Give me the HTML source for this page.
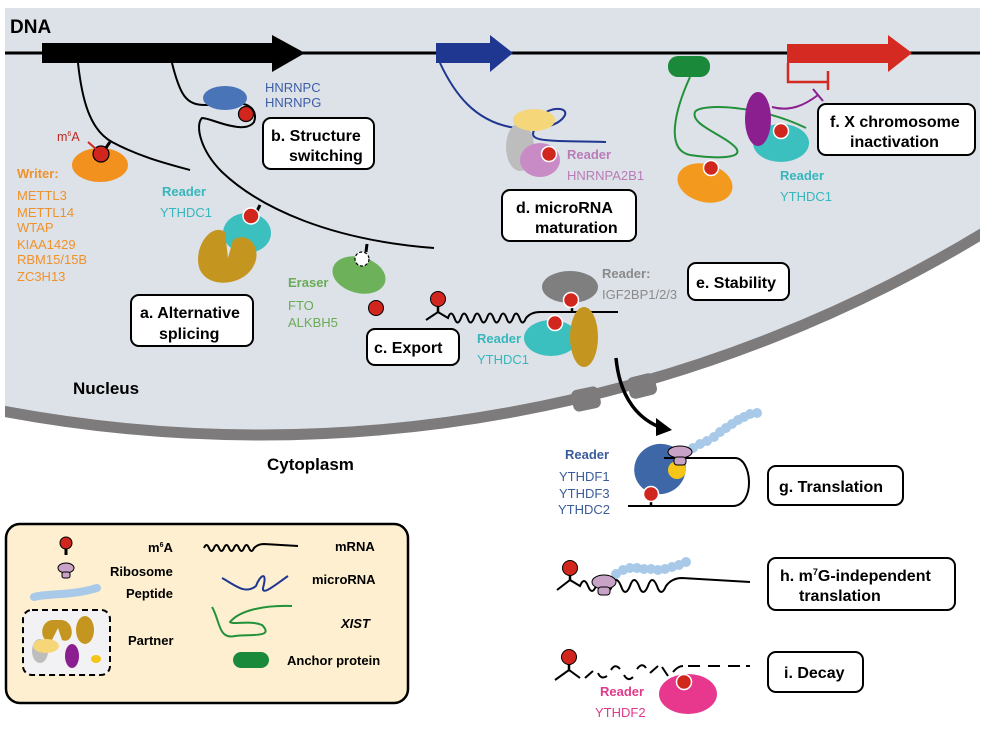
<!DOCTYPE html>
<html><head><meta charset="utf-8"><style>
html,body{margin:0;padding:0;background:#fff}
svg{display:block}
text{font-family:"Liberation Sans",Arial,sans-serif}
.b{font-weight:bold}
</style></head><body>
<svg width="987" height="737" viewBox="0 0 987 737" xmlns="http://www.w3.org/2000/svg">
<defs>
<clipPath id="nuc"><rect x="5" y="8" width="975" height="500"/></clipPath>
</defs>
<g clip-path="url(#nuc)">
<circle cx="260" cy="-961" r="1391" fill="#dde1e8"/>
<circle cx="260" cy="-961" r="1396" fill="none" stroke="#7d7b7b" stroke-width="11"/>
</g>
<rect x="572" y="388" width="28" height="22" rx="6" fill="#7d7b7b" transform="rotate(-12 586 399)"/>
<rect x="628" y="375" width="28" height="22" rx="6" fill="#7d7b7b" transform="rotate(-14 642 386)"/>

<text x="10" y="33" class="b" font-size="19">DNA</text>
<line x1="5" y1="53" x2="980" y2="53" stroke="#000" stroke-width="3"/>
<polygon points="42,43 272,43 272,35 305,53 272,72 272,63 42,63" fill="#000"/>
<polygon points="436,43 490,43 490,35 513,53 490,72 490,63 436,63" fill="#1f3790"/>
<polygon points="787,44 888,44 888,35 912,53 888,72 888,63 787,63" fill="#d42a22"/>
<rect x="668" y="56" width="42" height="21" rx="10" fill="#1a8a3a"/>

<path d="M78,63 C82,100 90,130 112,142 C140,157 168,164 190,170" fill="none" stroke="#000" stroke-width="2"/>
<ellipse cx="100" cy="165" rx="28" ry="17" fill="#f3911f"/>
<line x1="103" y1="152" x2="110" y2="142" stroke="#000" stroke-width="3"/>
<circle cx="101" cy="154" r="8" fill="#d1261e" stroke="#000" stroke-width="1.2"/>
<line x1="88" y1="142" x2="96" y2="149" stroke="#d1261e" stroke-width="2"/>
<text x="57" y="141" font-size="12.5" fill="#c0261f">m<tspan font-size="7" dy="-5">6</tspan><tspan dy="5">A</tspan></text>
<g fill="#f0922b" font-size="13">
<text x="17" y="178" class="b">Writer:</text>
<text x="17" y="200">METTL3</text><text x="17" y="217">METTL14</text><text x="17" y="232">WTAP</text>
<text x="17" y="249">KIAA1429</text><text x="17" y="264">RBM15/15B</text><text x="17" y="281">ZC3H13</text>
</g>

<path d="M172,63 C180,95 186,105 205,105 L232,105 C250,100 258,112 254,122 C250,128 240,128 232,126 C220,124 208,118 202,118 C195,125 200,150 222,172 C260,208 330,240 434,248" fill="none" stroke="#000" stroke-width="2"/>
<ellipse cx="225" cy="98" rx="22" ry="12" fill="#4a74b8"/>
<circle cx="246" cy="114" r="7.5" fill="#d1261e" stroke="#000" stroke-width="1.2"/>
<text x="265" y="92" font-size="13" fill="#3d5fa8">HNRNPC</text>
<text x="265" y="107" font-size="13" fill="#3d5fa8">HNRNPG</text>
<rect x="263" y="118" width="111" height="51" rx="8" fill="#fff" stroke="#000" stroke-width="2"/>
<text x="271" y="141" class="b" font-size="16">b. Structure</text>
<text x="289" y="161" class="b" font-size="16">switching</text>

<text x="162" y="196" class="b" font-size="13" fill="#35b7bb">Reader</text>
<text x="160" y="217" font-size="13" fill="#35b7bb">YTHDC1</text>
<ellipse cx="247" cy="233" rx="24" ry="20" fill="#3bbfbf"/>
<path d="M228,258 L233,240 C250,230 262,250 254,265 C245,285 210,290 200,270 C192,250 210,222 225,232 Z" fill="#c4961f"/>
<line x1="256" y1="213" x2="260" y2="205" stroke="#000" stroke-width="3"/>
<circle cx="251" cy="216" r="8" fill="#d1261e" stroke="#fff" stroke-width="1.5"/>
<rect x="131" y="295" width="122" height="51" rx="8" fill="#fff" stroke="#000" stroke-width="2"/>
<text x="140" y="318" class="b" font-size="16">a. Alternative</text>
<text x="159" y="339" class="b" font-size="16">splicing</text>

<ellipse cx="359" cy="275" rx="27" ry="18" fill="#6db25a" transform="rotate(15 359 275)"/>
<line x1="366" y1="252" x2="367" y2="244" stroke="#000" stroke-width="3"/>
<circle cx="362" cy="259" r="7" fill="#fff" stroke="#000" stroke-width="1.2" stroke-dasharray="3,2"/>
<text x="288" y="287" class="b" font-size="13" fill="#6aab57">Eraser</text>
<text x="288" y="310" font-size="13" fill="#6aab57">FTO</text>
<text x="288" y="327" font-size="13" fill="#6aab57">ALKBH5</text>
<circle cx="376" cy="308" r="7.5" fill="#d1261e" stroke="#000" stroke-width="1"/>

<path d="M426,320 L438,312 L448,318 q3,-9 6.5,0 q3,9 6.5,0 q3,-9 6.5,0 q3,9 6.5,0 q3,-9 6.5,0 q3,9 6.5,0 q3,-9 6.5,0 q3,9 6.5,0 q3,-9 6.5,0 q3,9 6.5,0 q3,-9 6.5,0 q3,9 6.5,0 q5,-6 14,-6 L618,312" fill="none" stroke="#000" stroke-width="2"/>
<line x1="438" y1="312" x2="438" y2="304" stroke="#000" stroke-width="2.5"/>
<circle cx="438" cy="299" r="7.5" fill="#d1261e" stroke="#000" stroke-width="1"/>
<rect x="367" y="329" width="92" height="36" rx="8" fill="#fff" stroke="#000" stroke-width="2"/>
<text x="374" y="353" class="b" font-size="16">c. Export</text>
<text x="477" y="343" class="b" font-size="13" fill="#35b7bb">Reader</text>
<text x="477" y="364" font-size="13" fill="#35b7bb">YTHDC1</text>
<ellipse cx="551" cy="338" rx="27" ry="18" fill="#3bbfbf"/>
<ellipse cx="584" cy="337" rx="14" ry="30" fill="#c4961f"/>
<circle cx="555" cy="323" r="7.5" fill="#d1261e" stroke="#fff" stroke-width="1.5"/>
<ellipse cx="570" cy="287" rx="28" ry="16" fill="#7f7f7f"/>
<line x1="572" y1="305" x2="572" y2="312" stroke="#000" stroke-width="2.5"/>
<circle cx="571" cy="300" r="7.5" fill="#d1261e" stroke="#fff" stroke-width="1.5"/>
<text x="602" y="278" class="b" font-size="13" fill="#8a8a8a">Reader:</text>
<text x="602" y="299" font-size="13" fill="#8a8a8a">IGF2BP1/2/3</text>
<rect x="688" y="263" width="101" height="37" rx="8" fill="#fff" stroke="#000" stroke-width="2"/>
<text x="696" y="288" class="b" font-size="16">e. Stability</text>

<path d="M440,63 C455,95 475,120 510,127 C540,132 560,125 565,115 C568,105 545,108 540,118 C535,130 525,138 545,140 C560,142 590,141 606,142" fill="none" stroke="#1f3790" stroke-width="2"/>
<ellipse cx="520" cy="147" rx="14" ry="24" fill="#bdbdbd"/>
<ellipse cx="540" cy="160" rx="20" ry="17" fill="#c98bc6"/>
<ellipse cx="534" cy="120" rx="21" ry="11" fill="#f5d77a"/>
<circle cx="549" cy="154" r="7.5" fill="#d1261e" stroke="#fff" stroke-width="1.5"/>
<text x="567" y="159" class="b" font-size="13" fill="#b97cb8">Reader</text>
<text x="567" y="180" font-size="13" fill="#b97cb8">HNRNPA2B1</text>
<rect x="502" y="190" width="134" height="51" rx="8" fill="#fff" stroke="#000" stroke-width="2"/>
<text x="516" y="213" class="b" font-size="16">d. microRNA</text>
<text x="535" y="233" class="b" font-size="16">maturation</text>

<path d="M690,77 C675,110 665,150 690,155 C710,158 745,160 736,148 C725,135 690,125 695,112 C700,103 760,105 806,128" fill="none" stroke="#22913a" stroke-width="2"/>
<ellipse cx="705" cy="183" rx="28" ry="19" fill="#f39a1e" transform="rotate(15 705 183)"/>
<circle cx="711" cy="168" r="7.5" fill="#d1261e" stroke="#fff" stroke-width="1.5"/>
<ellipse cx="781" cy="143" rx="28" ry="19" fill="#3bbfbf"/>
<ellipse cx="758" cy="119" rx="13" ry="27" fill="#8b1f8f"/>
<circle cx="781" cy="131" r="7.5" fill="#d1261e" stroke="#fff" stroke-width="1.5"/>
<path d="M772,107 C790,112 805,105 818,95" fill="none" stroke="#8b1f8f" stroke-width="2"/>
<line x1="813" y1="89" x2="823" y2="101" stroke="#8b1f8f" stroke-width="2"/>
<path d="M788,63 L788,82 L828,82" fill="none" stroke="#d42a22" stroke-width="2.5"/>
<line x1="828" y1="71" x2="828" y2="90" stroke="#d42a22" stroke-width="2.5"/>
<text x="780" y="180" class="b" font-size="13" fill="#35b7bb">Reader</text>
<text x="780" y="201" font-size="13" fill="#35b7bb">YTHDC1</text>
<rect x="818" y="104" width="157" height="51" rx="8" fill="#fff" stroke="#000" stroke-width="2"/>
<text x="830" y="127" class="b" font-size="16">f. X chromosome</text>
<text x="850" y="147" class="b" font-size="16">inactivation</text>

<text x="73" y="394" class="b" font-size="17">Nucleus</text>
<text x="267" y="470" class="b" font-size="17">Cytoplasm</text>

<path d="M616,358 C620,400 640,420 662,428" fill="none" stroke="#000" stroke-width="3.5"/>
<polygon points="656,418 672,430 656,436" fill="#000"/>

<text x="565" y="459" class="b" font-size="13" fill="#3b5c9a">Reader</text>
<g font-size="13" fill="#3b5c9a"><text x="559" y="481">YTHDF1</text><text x="559" y="498">YTHDF3</text><text x="558" y="514">YTHDC2</text></g>
<g fill="#a9c9e8"><circle cx="693" cy="448" r="5"/><circle cx="700" cy="444" r="5"/><circle cx="707" cy="441" r="5"/><circle cx="714" cy="437" r="5"/><circle cx="720" cy="432" r="5"/><circle cx="726" cy="428" r="5"/><circle cx="732" cy="424" r="5"/><circle cx="738" cy="420" r="5"/><circle cx="744" cy="417" r="5"/><circle cx="750" cy="414" r="5"/><circle cx="757" cy="413" r="5"/></g>
<ellipse cx="660" cy="469" rx="26" ry="25" fill="#3e67a8" transform="rotate(-25 660 469)"/>
<circle cx="677" cy="470" r="9" fill="#f5c518"/>
<path d="M664,458 L735,458 C752,458 756,505 733,506 L628,506" fill="none" stroke="#000" stroke-width="2"/>
<ellipse cx="680" cy="452" rx="12" ry="6" fill="#c9a2c8" stroke="#000" stroke-width="1"/>
<rect x="674" y="457" width="12" height="8" rx="3" fill="#c9a2c8" stroke="#000" stroke-width="1"/>
<line x1="651" y1="500" x2="651" y2="506" stroke="#000" stroke-width="2.5"/>
<circle cx="651" cy="494" r="7.5" fill="#d1261e" stroke="#fff" stroke-width="1.5"/>
<rect x="768" y="466" width="135" height="39" rx="8" fill="#fff" stroke="#000" stroke-width="2"/>
<text x="779" y="492" class="b" font-size="16">g. Translation</text>

<path d="M557,590 L570,580 L580,586 q4,-10 8,0 q4,10 8,0 q4,-10 8,0 q4,10 8,0 q4,-12 9,0 q4,12 9,0 q4,-12 9,0 q4,12 9,0 q4,-12 9,0 q4,12 9,0 q6,-8 16,-8 L750,582" fill="none" stroke="#000" stroke-width="2"/>
<g fill="#a9c9e8"><circle cx="616" cy="574" r="5"/><circle cx="623" cy="570" r="5"/><circle cx="630" cy="568" r="5"/><circle cx="637" cy="568" r="5"/><circle cx="644" cy="569" r="5"/><circle cx="651" cy="569" r="5"/><circle cx="658" cy="570" r="5"/><circle cx="665" cy="569" r="5"/><circle cx="672" cy="567" r="5"/><circle cx="679" cy="565" r="5"/><circle cx="686" cy="562" r="5"/></g>
<ellipse cx="604" cy="582" rx="12" ry="7" fill="#c9a2c8" stroke="#000" stroke-width="1"/>
<rect x="598" y="587" width="12" height="8" rx="3" fill="#c9a2c8" stroke="#000" stroke-width="1"/>
<line x1="570" y1="574" x2="570" y2="580" stroke="#000" stroke-width="2.5"/>
<circle cx="570" cy="568" r="7.5" fill="#d1261e" stroke="#000" stroke-width="1"/>
<rect x="768" y="558" width="187" height="52" rx="8" fill="#fff" stroke="#000" stroke-width="2"/>
<text x="780" y="581" class="b" font-size="16">h. m<tspan font-size="9" dy="-6">7</tspan><tspan dy="6">G-independent</tspan></text>
<text x="799" y="601" class="b" font-size="16">translation</text>

<path d="M555,680 L569,670 L580,678 M585,678 L593,671 M598,673 q3,7 9,3 M611,670 q4,-7 9,-1 M624,675 q4,7 9,2 M637,669 q5,-7 9,-1 M650,673 L658,666 M662,667 L668,676 M673,672 q5,-6 10,-6 M688,666 L700,666 M708,666 L720,666 M728,666 L740,666 M746,666 L750,666" fill="none" stroke="#000" stroke-width="2"/>
<line x1="569" y1="662" x2="569" y2="670" stroke="#000" stroke-width="2.5"/>
<circle cx="569" cy="657" r="7.5" fill="#d1261e" stroke="#000" stroke-width="1"/>
<ellipse cx="688" cy="694" rx="29" ry="20" fill="#e8388e"/>
<circle cx="684" cy="682" r="7.5" fill="#d1261e" stroke="#fff" stroke-width="1.5"/>
<text x="600" y="696" class="b" font-size="13" fill="#e03a8a">Reader</text>
<text x="595" y="717" font-size="13" fill="#e03a8a">YTHDF2</text>
<rect x="768" y="652" width="95" height="40" rx="8" fill="#fff" stroke="#000" stroke-width="2"/>
<text x="784" y="678" class="b" font-size="16">i. Decay</text>

<rect x="6" y="524" width="402" height="179" rx="14" fill="#fdefcf" stroke="#000" stroke-width="2.5"/>
<rect x="23" y="610" width="87" height="65" rx="9" fill="#f2f2f4" stroke="#000" stroke-width="2" stroke-dasharray="6,4"/>
<line x1="66" y1="548" x2="66" y2="555" stroke="#000" stroke-width="3"/>
<circle cx="66" cy="543" r="6" fill="#d1261e" stroke="#000" stroke-width="1"/>
<text x="148" y="552" class="b" font-size="13">m<tspan font-size="7" dy="-5">6</tspan><tspan dy="5">A</tspan></text>
<ellipse cx="66" cy="568" rx="8" ry="5" fill="#c9a2c8" stroke="#000" stroke-width="1"/>
<rect x="62" y="572" width="8" height="6" rx="2" fill="#c9a2c8" stroke="#000" stroke-width="1"/>
<text x="110" y="576" class="b" font-size="13">Ribosome</text>
<path d="M34,597 C50,593 70,596 97,588" stroke="#a9c9e8" stroke-width="8" stroke-linecap="round" fill="none" stroke-dasharray="5,1"/>
<text x="126" y="598" class="b" font-size="13">Peptide</text>
<path d="M52,640 C40,645 38,622 52,620 L62,620 C76,622 74,645 62,640 L58,628 Z" fill="#c4961f"/>
<ellipse cx="85" cy="630" rx="9" ry="14" fill="#c4961f"/>
<ellipse cx="40" cy="651" rx="8" ry="12" fill="#bdbdbd"/>
<ellipse cx="46" cy="646" rx="13" ry="7" fill="#f5d77a"/>
<ellipse cx="72" cy="656" rx="7" ry="12" fill="#8b1f8f"/>
<ellipse cx="96" cy="659" rx="5" ry="4" fill="#f5c518"/>
<text x="128" y="645" class="b" font-size="13">Partner</text>
<path d="M204,548 q2.5,-6 5,0 q2.5,6 5,0 q2.5,-6 5,0 q2.5,6 5,0 q2.5,-6 5,0 q2.5,6 5,0 q2.5,-6 5,0 q2.5,6 5,0 q2.5,-6 5,0 q2.5,6 5,0 q4,-4 10,-4 L298,546" fill="none" stroke="#000" stroke-width="2"/>
<text x="335" y="551" class="b" font-size="13">mRNA</text>
<path d="M222,578 C235,585 245,595 256,586 C260,575 268,570 263,588 C262,596 275,585 288,576" fill="none" stroke="#1f3790" stroke-width="2"/>
<text x="312" y="584" class="b" font-size="13">microRNA</text>
<path d="M212,607 C220,620 218,640 235,636 C250,634 275,638 262,625 C250,620 232,625 230,622 C240,610 265,605 292,606" fill="none" stroke="#22913a" stroke-width="2"/>
<text x="341" y="628" class="b" font-style="italic" font-size="13">XIST</text>
<rect x="233" y="652" width="36" height="16" rx="8" fill="#1a8a3a"/>
<text x="287" y="665" class="b" font-size="13">Anchor protein</text>
</svg>
</body></html>
